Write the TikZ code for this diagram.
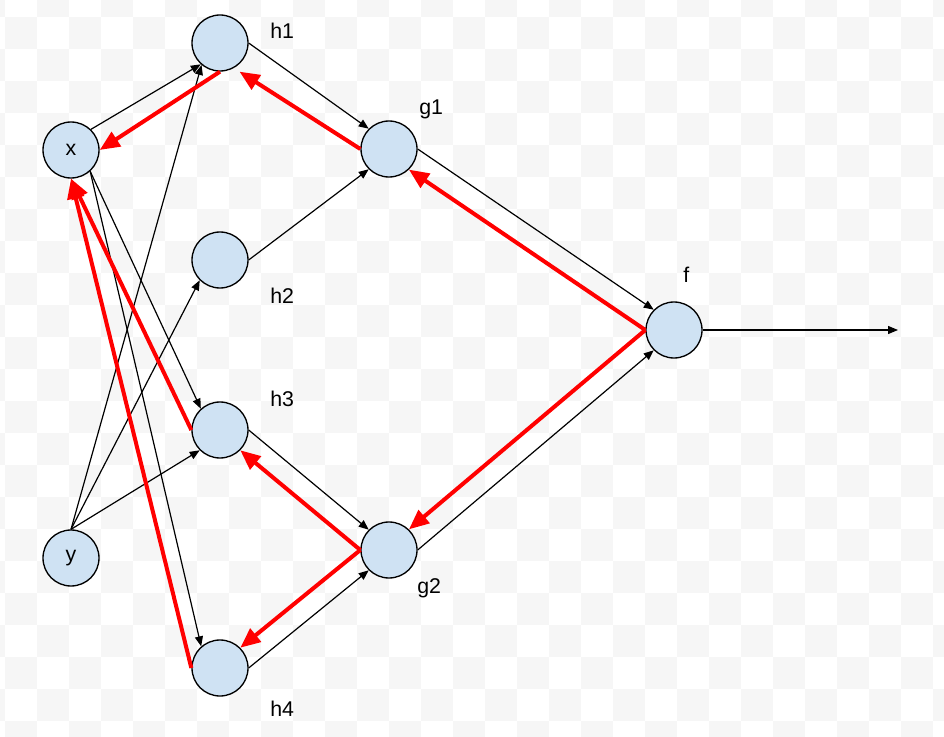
\documentclass[tikz,border=0pt]{standalone}
\usepackage{fontspec}
\setmainfont{Liberation Sans}
\usetikzlibrary{arrows.meta}
\definecolor{nodefill}{HTML}{CFE2F3}
\definecolor{checker}{HTML}{F6F6F6}
\definecolor{redarrow}{HTML}{FF0000}
\begin{document}
\begin{tikzpicture}[x=0.75pt,y=-0.75pt,
  neuron/.style={circle,draw=black,line width=1pt,fill=nodefill,minimum size=42pt,inner sep=0pt,font=\fontsize{16}{19}\selectfont},
  lbl/.style={anchor=base west,inner sep=0pt,font=\fontsize{16}{19}\selectfont},
  fwd/.style={draw=black,line width=0.9pt,-{Triangle[length=7.5pt,width=6pt]}},
  bwd/.style={draw=redarrow,line width=3pt,-{Triangle[length=15pt,width=12.5pt]}}]
\useasboundingbox (0,0) rectangle (944,737);
\fill[white] (0,0) rectangle (944,737);
\begin{scope}
\clip (0,0) rectangle (944,737);
\foreach \j in {-1,...,22}{
  \pgfmathtruncatemacro\off{mod(\j+2,2)}
  \foreach \i in {-2,0,...,28}{
    \fill[checker] ({5+32*(\i+\off)},{17+32*\j}) rectangle +(32,32);
  }
}
\end{scope}

% nodes
\node[neuron] (x)  at (71,150)  {x};
\node[neuron] (y)  at (71,558)  {y};
\node[neuron] (h1) at (220,43)  {};
\node[neuron] (h2) at (220,260) {};
\node[neuron] (h3) at (220,430) {};
\node[neuron] (h4) at (220,668) {};
\node[neuron] (g1) at (389,149) {};
\node[neuron] (g2) at (389,550) {};
\node[neuron] (f)  at (674,330) {};
\coordinate (out) at (898,330);

% labels
\node[lbl] (lh1) at (270,39)  {h1};
\node[lbl] (lh2) at (270,304) {h2};
\node[lbl] (lh3) at (270,406) {h3};
\node[lbl] (lh4) at (270,716) {h4};
\node[lbl] (lg1) at (419,115) {g1};
\node[lbl] (lg2) at (417,593) {g2};
\node[lbl] (lf)  at (683,283) {f};

% forward connectors
\draw[fwd] (x.46) -- (h1.228);
\draw[fwd] (y.north) -- (h1.230);
\draw[fwd] (y.north) -- (h2.225);
\draw[fwd] (y.north) -- (h3.225);
\draw[fwd] (x.-48) -- (h3.132);
\draw[fwd] (x.-48) -- (h4.131);
\draw[fwd] (h1.east) -- (g1.135);
\draw[fwd] (h2.east) -- (g1.225);
\draw[fwd] (h3.east) -- (g2.135);
\draw[fwd] (h4.east) -- (g2.225);
\draw[fwd] (g1.east) -- (f.135);
\draw[fwd] (g2.east) -- (f.225);
\draw[fwd] (f.east) -- (out);

% backward connectors
\draw[bwd] (h1.south) -- (x.east);
\draw[bwd,shorten >=5pt] (g1.west) -- (h1.-61);
\draw[bwd] (f.west) -- (g1.-46);
\draw[bwd] (f.west) -- (g2.46);
\draw[bwd] (g2.west) -- (h3.-45);
\draw[bwd] (g2.west) -- (h4.45);
\draw[bwd] (h3.west) -- (x.south);
\draw[bwd] (h4.west) -- (x.south);
\end{tikzpicture}
\end{document}
